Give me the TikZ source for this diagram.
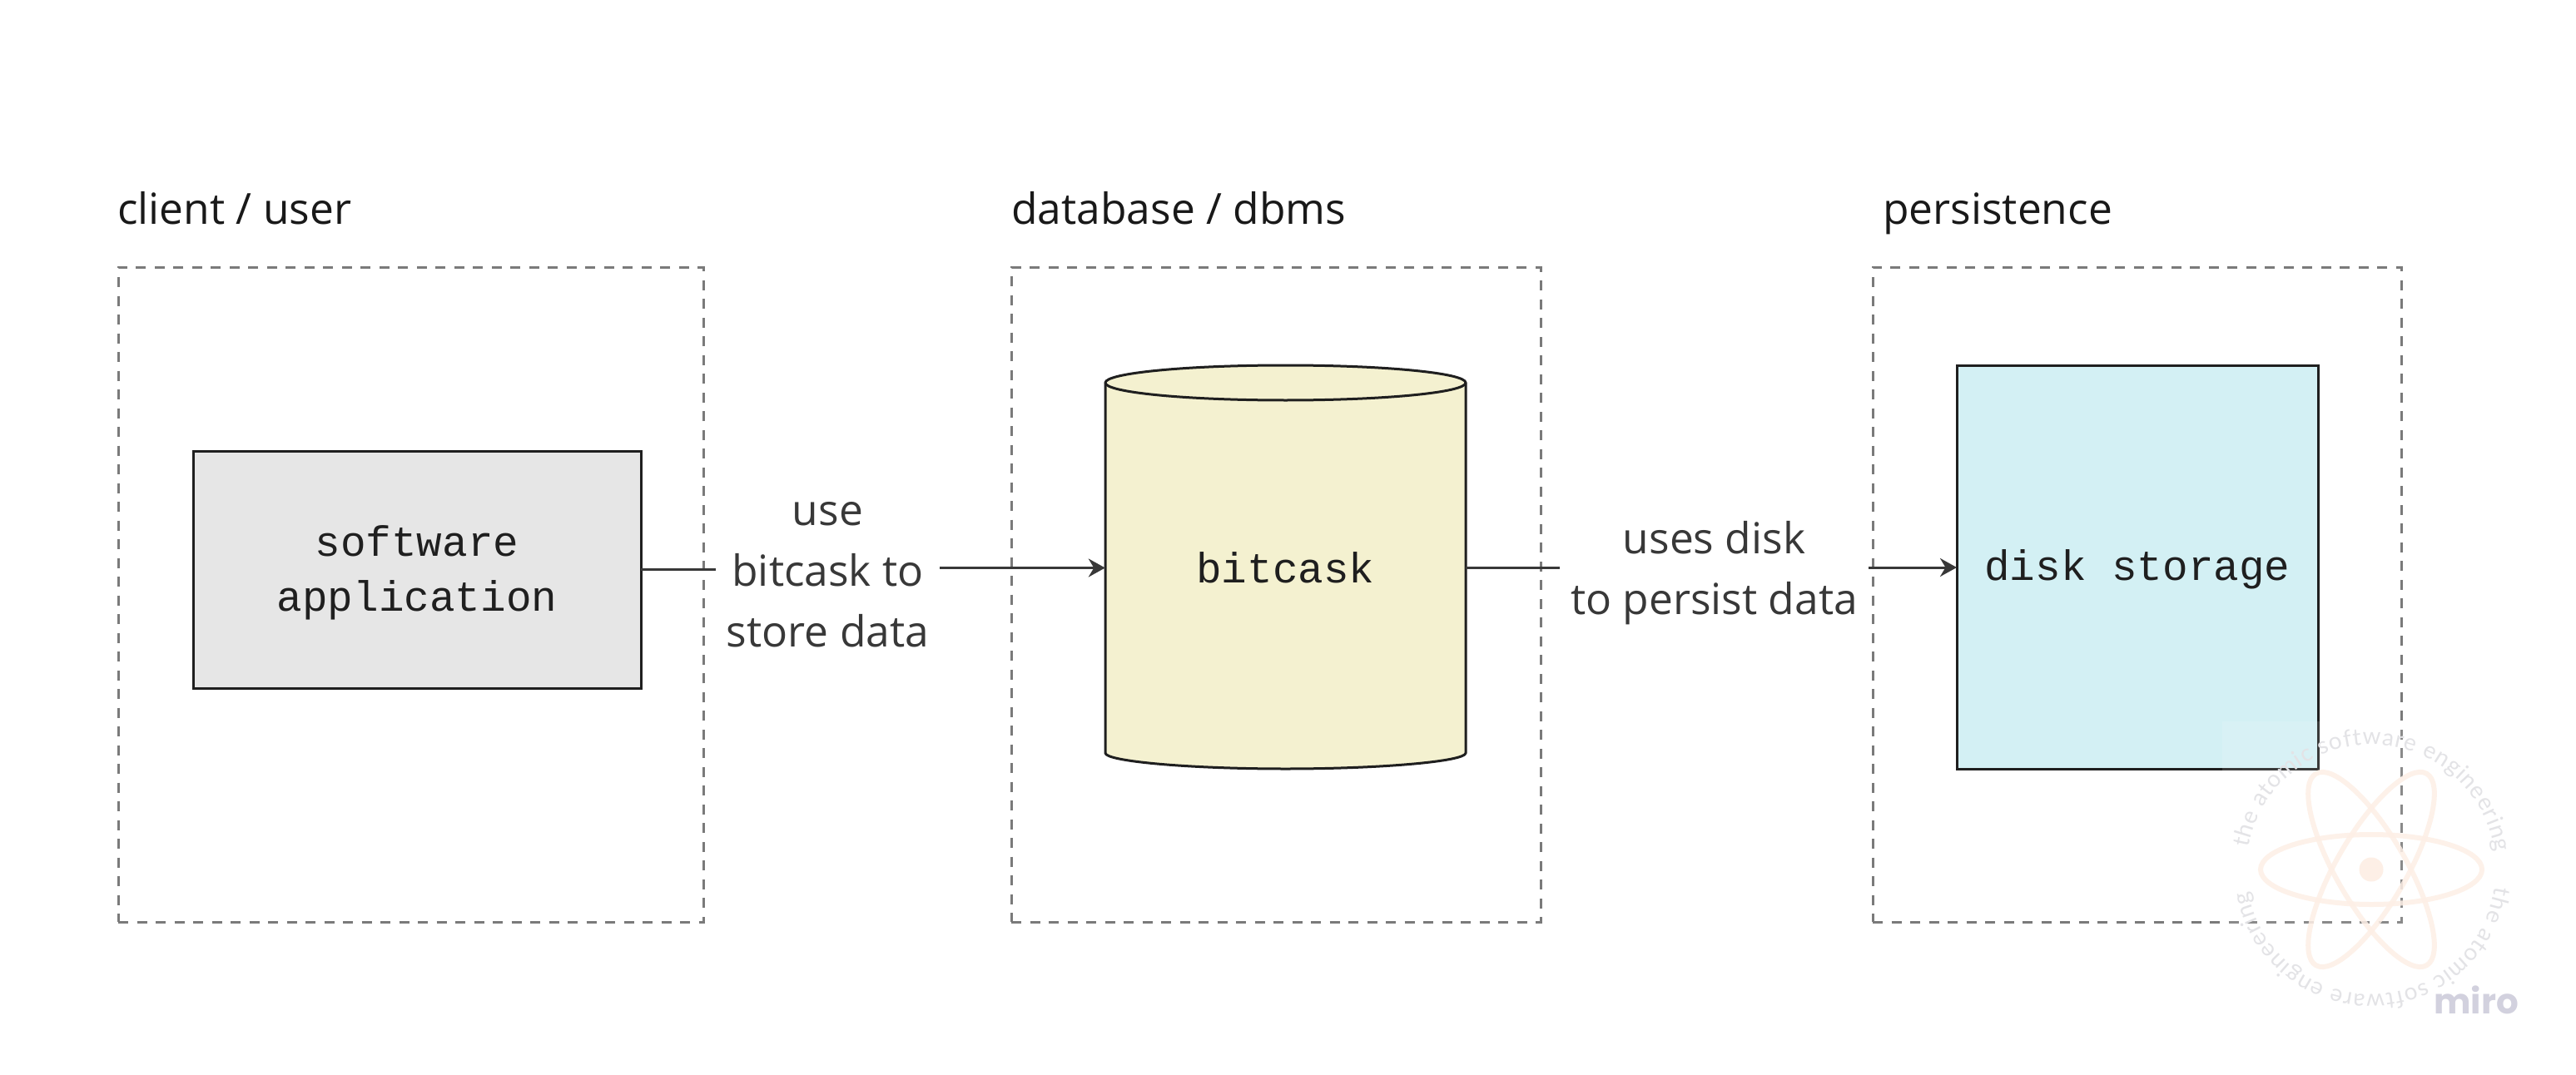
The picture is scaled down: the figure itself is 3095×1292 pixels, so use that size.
\documentclass[tikz,border=0pt]{standalone}
\usepackage{fontspec}
\setmainfont{Open Sans}
\newfontfamily\monof{Liberation Mono}
\newfontfamily\wmfont{Poppins}
\newfontfamily\wmtext{Lato}
\usetikzlibrary{arrows.meta,decorations.text}
\definecolor{lineK}{HTML}{1F1F1F}
\definecolor{dashG}{HTML}{7A7A7A}
\definecolor{connK}{HTML}{383838}
\definecolor{appF}{HTML}{E6E6E6}
\definecolor{dbF}{HTML}{F4F1D0}
\definecolor{diskF}{HTML}{D3F0F4}
\definecolor{wmO}{HTML}{FDEFE6}
\definecolor{wmT}{HTML}{E3E3E6}
\definecolor{wmM}{HTML}{D2D1DE}
\newcommand{\lowr}[1]{\raisebox{-2pt}[\height][\depth]{#1}}
\tikzset{
  x=1pt,y=-1pt,
  group/.style={draw=dashG,line width=3pt,dash pattern=on 12pt off 10.5pt,fill=none,inner sep=0pt,outer sep=0pt,anchor=north west},
  head/.style={anchor=base west,inner sep=0pt,text=black!90,font=\fontsize{51.5}{60}\selectfont},
  solid box/.style={draw=lineK,line width=3pt,inner sep=0pt,outer sep=0pt,anchor=north west,align=center,text=lineK,
    font=\monof\fontsize{51}{66}\selectfont},
  clabel/.style={inner sep=0pt,align=center,text=connK,font=\fontsize{51.5}{73}\selectfont},
  conn/.style={draw=connK,line width=3pt},
  tip/.style={-{Stealth[length=20pt,width=22pt]}},
  orbit/.style={draw=wmO,line width=6pt,opacity=.85},
}
\begin{document}
\begin{tikzpicture}
\useasboundingbox (0,0) rectangle (3095,1292);
\fill[white] (0,0) rectangle (3095,1292);
% groups
\node[group,minimum width=703pt,minimum height=787pt] (g1) at (142,321) {};
\node[group,minimum width=636pt,minimum height=787pt] (g2) at (1215,321) {};
\node[group,minimum width=635.5pt,minimum height=787pt] (g3) at (2250,321) {};
\node[head] (h1) at (141,269.5) {client / user};
\node[head] (h2) at (1215,269.5) {database / dbms};
\node[head] (h3) at (2262,269.5) {persistence};
% boxes
\node[solid box,fill=appF,minimum width=538pt,minimum height=285pt] (app) at (232,542) {\raisebox{-4pt}[\height][\depth]{software}\\\raisebox{-4pt}[\height][\depth]{application}};
\draw[draw=lineK,line width=3pt,fill=dbF]
  (1328,460) arc[start angle=180,end angle=360,x radius=216.5,y radius=21]
  -- (1761,905) .. controls (1761,915) and (1660,924) .. (1544.5,924)
  .. controls (1429,924) and (1328,915) .. (1328,905) -- cycle;
\draw[draw=lineK,line width=3pt]
  (1328,460) arc[start angle=180,end angle=0,x radius=216.5,y radius=21];
\node[inner sep=0pt,minimum width=433pt,minimum height=444pt,align=center,text=lineK,
  font=\monof\fontsize{51}{66}\selectfont] (db) at (1544.5,682.5) {bitcask};
\node[solid box,fill=diskF,minimum width=434pt,minimum height=485pt] (disk) at (2351,439.5) {\lowr{disk storage}};
% labels
\node[clabel,minimum width=269pt] (l1) at (994.5,691) {use\\bitcask to\\store data};
\node[clabel,minimum width=371pt] (l2) at (2059.5,689) {uses disk\\to persist data};
% connectors
\draw[conn] (app.east) -- (app.east -| l1.west);
\draw[conn,tip] (db.west -| l1.east) -- (db.west);
\draw[conn] (db.east) -- (db.east -| l2.west);
\draw[conn,tip] (disk.west -| l2.east) -- (disk.west);
% watermark
\fill[white,opacity=.12] (2670,867) rectangle (3030,1225);
\coordinate (wm) at (2849,1045);
\draw[orbit] (wm) ellipse[x radius=133,y radius=42];
\draw[orbit,rotate around={60:(wm)}] (wm) ellipse[x radius=133,y radius=42];
\draw[orbit,rotate around={-60:(wm)}] (wm) ellipse[x radius=133,y radius=42];
\fill[wmO] (wm) circle[radius=14.5];
\path[postaction={decorate,decoration={text along path,text align=fit to path,
   text={|\wmtext\fontsize{28}{28}\selectfont\color{wmT}|the atomic software engineering}}}]
  (wm) ++(190:150) arc[start angle=190,end angle=352,radius=150];
\path[postaction={decorate,decoration={text along path,text align=fit to path,
   text={|\wmtext\fontsize{28}{28}\selectfont\color{wmT}|the atomic software engineering}}}]
  (wm) ++(8:150) arc[start angle=8,end angle=170,radius=150];
\node[anchor=base west,inner sep=0pt,text=wmM,font=\wmfont\bfseries\fontsize{42}{42}\selectfont] (miro) at (2924,1218) {miro};
\end{tikzpicture}
\end{document}
